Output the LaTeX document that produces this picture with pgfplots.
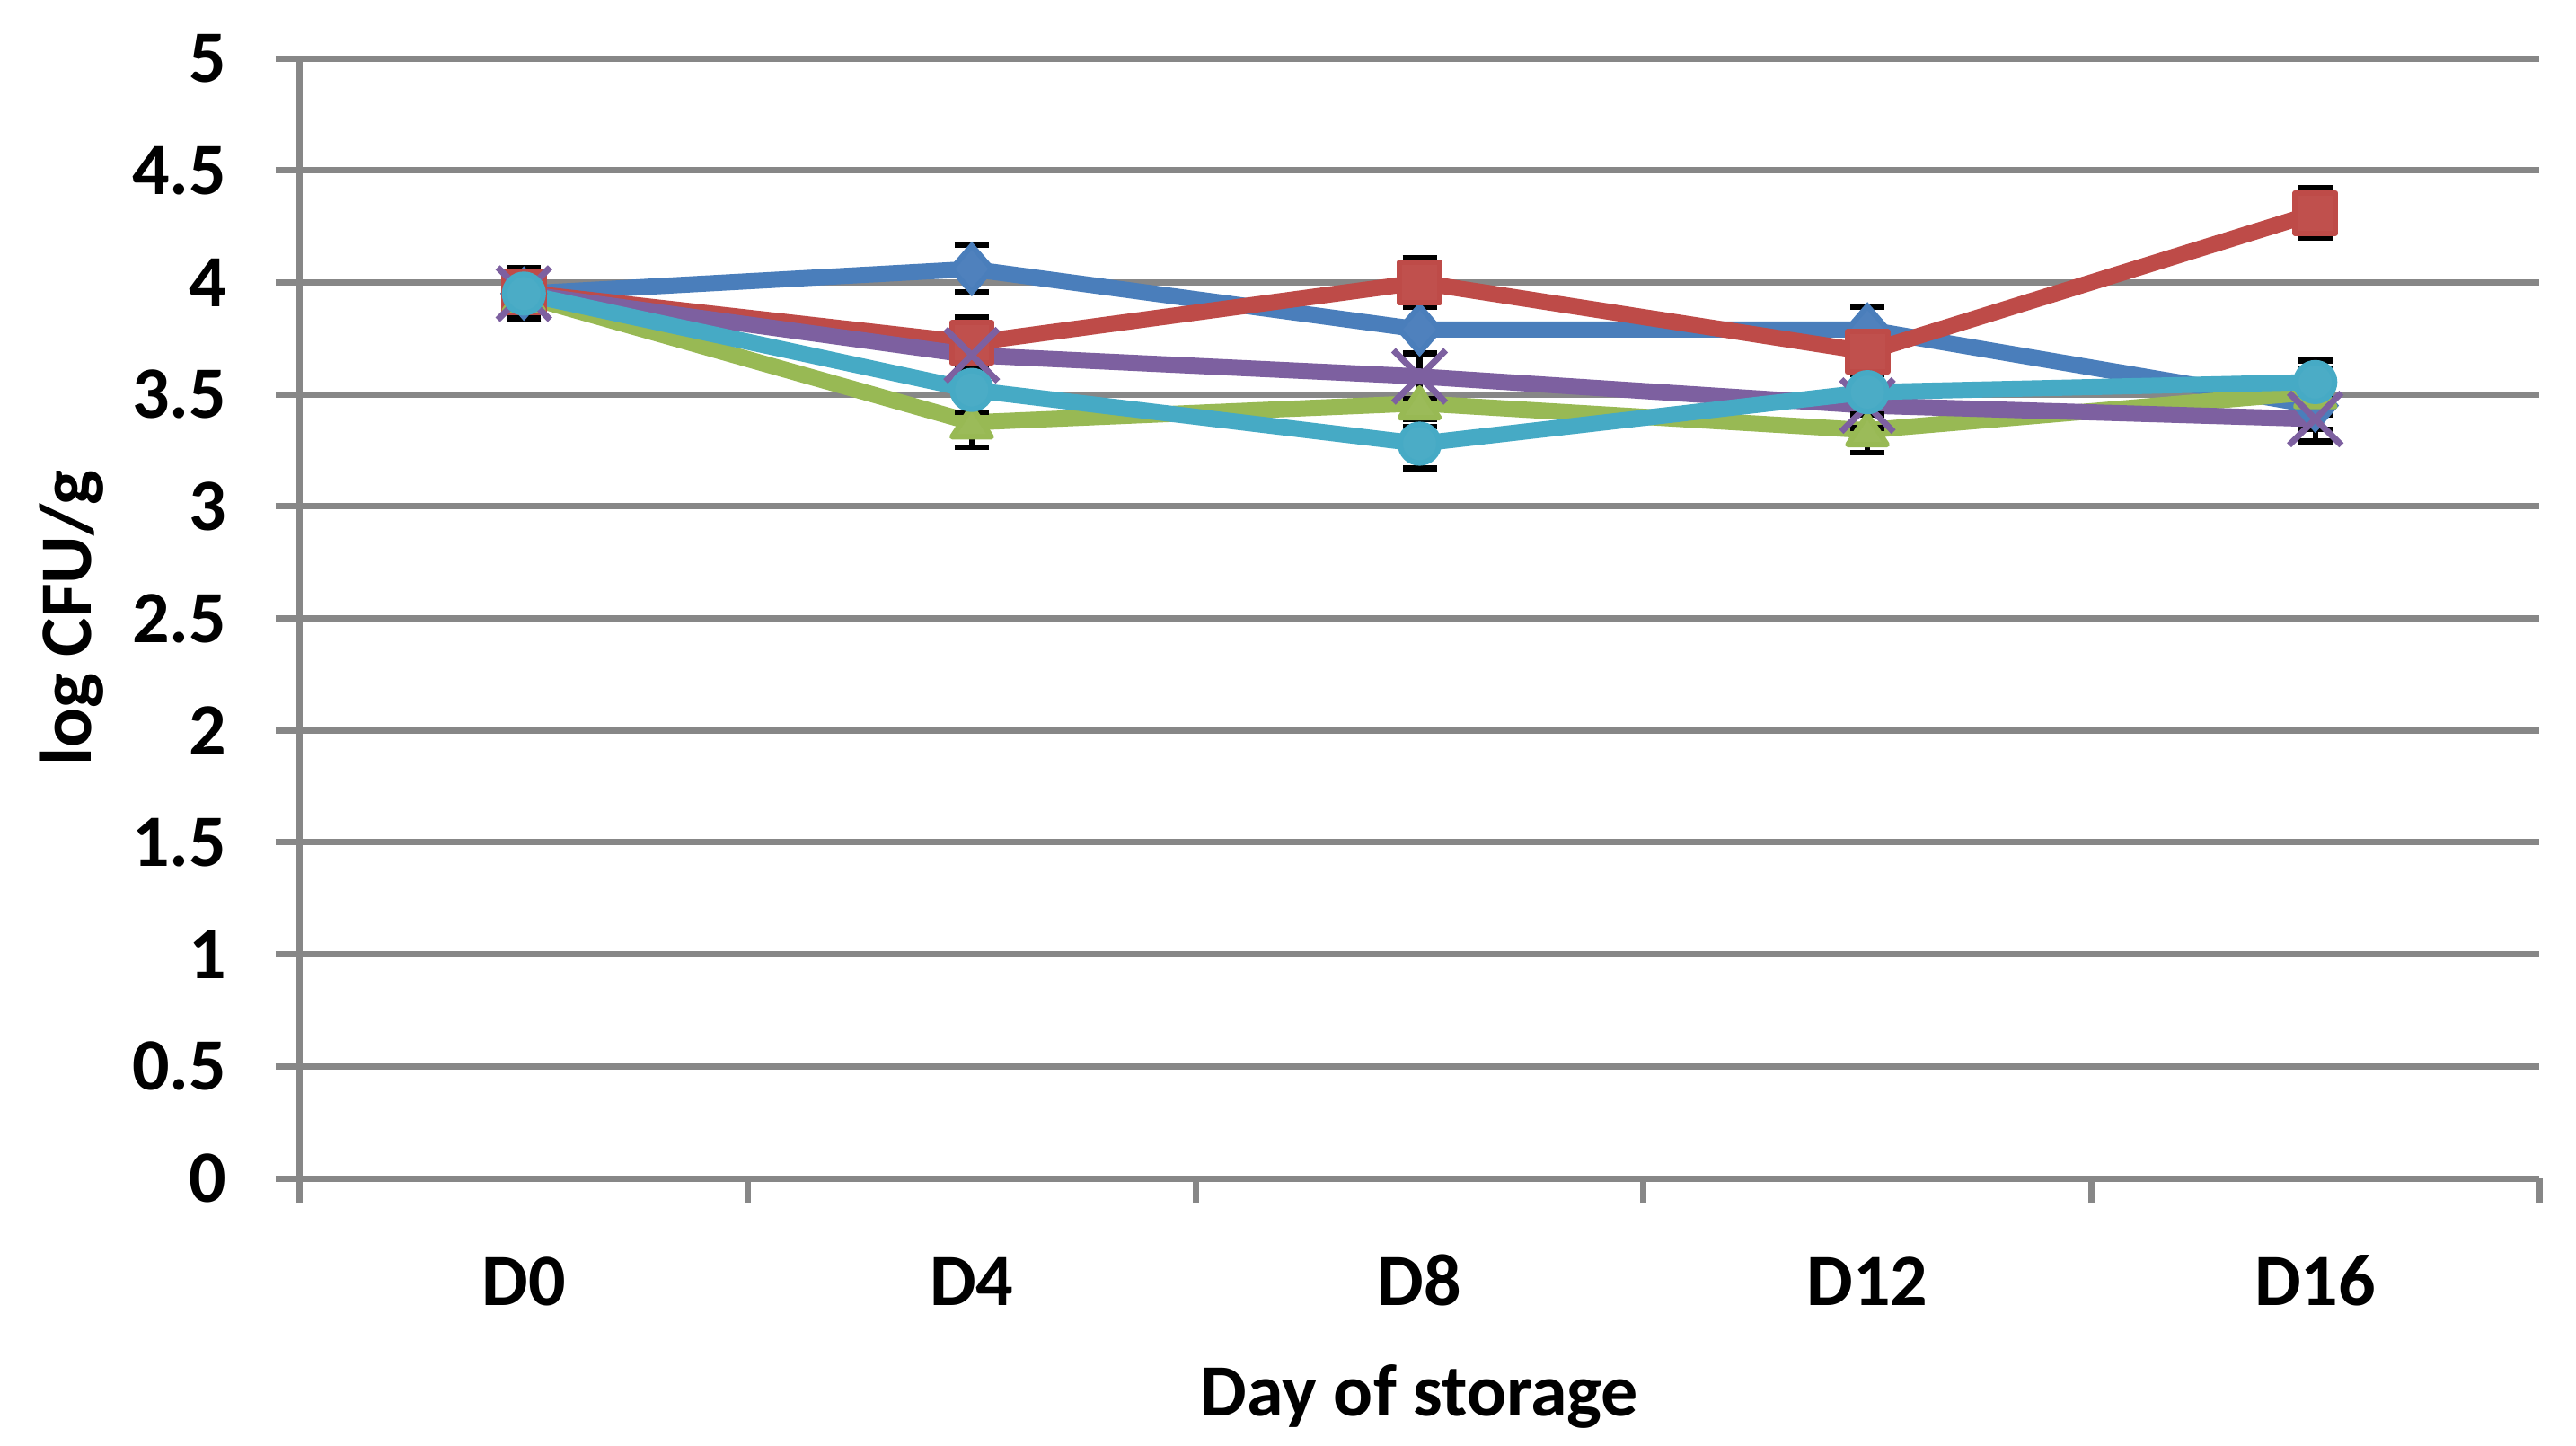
\documentclass[border=0pt]{standalone}
\usepackage{fontspec}
\setmainfont{Carlito}
\usepackage{pgfplots}
\usepackage{pgfplotstable}
\pgfplotsset{compat=1.18}
\definecolor{gridgray}{HTML}{878787}
\definecolor{sblue}{HTML}{4A7EBB}
\definecolor{sbluef}{HTML}{4F81BD}
\definecolor{sred}{HTML}{BE4B48}
\definecolor{sredf}{HTML}{C0504D}
\definecolor{sgreen}{HTML}{98B954}
\definecolor{sgreenf}{HTML}{9BBB59}
\definecolor{spurple}{HTML}{7D60A0}
\definecolor{scyan}{HTML}{46AAC5}
\definecolor{scyanf}{HTML}{4BACC6}
\pgfplotstableread{
x b be r re g ge p pe c ce
0 3.95 0.11 3.955 0.11 3.94 0.10 3.95 0.10 3.95 0.10
1 4.06 0.105 3.73 0.115 3.375 0.11 3.675 0.10 3.52 0.10
2 3.79 0.107 4.00 0.11 3.46 0.105 3.58 0.10 3.28 0.11
3 3.79 0.10 3.69 0.10 3.34 0.10 3.45 0.10 3.51 0.10
4 3.45 0.105 4.31 0.11 3.51 0.10 3.39 0.10 3.555 0.096
}\datatable
\newcommand{\lblfont}{\fontsize{20.5pt}{24pt}\selectfont\bfseries}
\pgfplotsset{errbar/.style={draw=none, mark=none, forget plot,
  error bars/.cd, y dir=both, y explicit,
  error bar style={draw=black, line width=1.6pt},
  error mark options={draw=black, line width=1.6pt, mark size=4.75pt, rotate=90}}}
\begin{document}
\begin{tikzpicture}
\useasboundingbox (-83.5pt,-74.25pt) rectangle (633.5pt,328pt);
\begin{axis}[
  scale only axis, width=623.25pt, height=311.75pt,
  xmin=-0.5, xmax=4.5, ymin=0, ymax=5,
  axis x line=bottom, axis y line=left,
  axis line style={draw=gridgray, line width=1.75pt, -},
  x axis line style={-}, y axis line style={-},
  ytick={0,0.5,...,5},
  ymajorgrids, grid style={draw=gridgray, line width=1.75pt},
  xtick={-0.5,0.5,1.5,2.5,3.5,4.5}, xticklabels={,,,,,},
  extra x ticks={0,1,2,3,4}, extra x tick labels={D0,D4,D8,D12,D16},
  extra x tick style={major tick length=0pt, grid=none, xtick style={draw=none}},
  tick align=outside, major tick length=6.75pt,
  tick style={draw=gridgray, line width=1.75pt},
  /pgf/number format/assume math mode=true,
  tick label style={font=\lblfont},
  yticklabel style={anchor=east, inner sep=0pt, xshift=-13.5pt},
  xticklabel style={anchor=base, inner sep=0pt, yshift=-35.25pt},
  label style={font=\lblfont},
  xlabel={Day of storage},
  xlabel style={at={(axis description cs:0.5,-0.2125)}, anchor=base},
  ylabel={log CFU/g},
  ylabel style={at={(axis description cs:-0.10188,0.5)}, anchor=center, rotate=0},
  every axis plot/.append style={line join=round},
]
% blue
\addplot[errbar] table[x=x, y=b, y error=be]{\datatable};
\addplot[sblue, line width=4.5pt, mark=diamond*, mark size=6.5pt,
  mark options={xscale=1.15, fill=sbluef, draw=sblue, line width=1.5pt, line join=miter}]
  table[x=x, y=b]{\datatable};
% red
\addplot[errbar] table[x=x, y=r, y error=re]{\datatable};
\addplot[sred, line width=4.5pt, mark=square*, mark size=5.6pt,
  mark options={fill=sredf, draw=sred, line width=1.5pt, line join=round}]
  table[x=x, y=r]{\datatable};
% green
\addplot[errbar] table[x=x, y=g, y error=ge]{\datatable};
\addplot[sgreen, line width=4.5pt, mark=triangle*, mark size=6.3pt,
  mark options={yscale=0.88, yshift=-1.4pt, fill=sgreenf, draw=sgreen, line width=1.5pt, line join=round}]
  table[x=x, y=g]{\datatable};
% purple
\addplot[errbar] table[x=x, y=p, y error=pe]{\datatable};
\addplot[spurple, line width=4.5pt, mark=x, mark size=10.3pt,
  mark options={draw=spurple, line width=1.75pt}]
  table[x=x, y=p]{\datatable};
% cyan
\addplot[errbar] table[x=x, y=c, y error=ce]{\datatable};
\addplot[scyan, line width=4.5pt, mark=*, mark size=5.4pt,
  mark options={fill=scyanf, draw=scyan, line width=1.5pt}]
  table[x=x, y=c]{\datatable};
\end{axis}
\end{tikzpicture}
\end{document}
